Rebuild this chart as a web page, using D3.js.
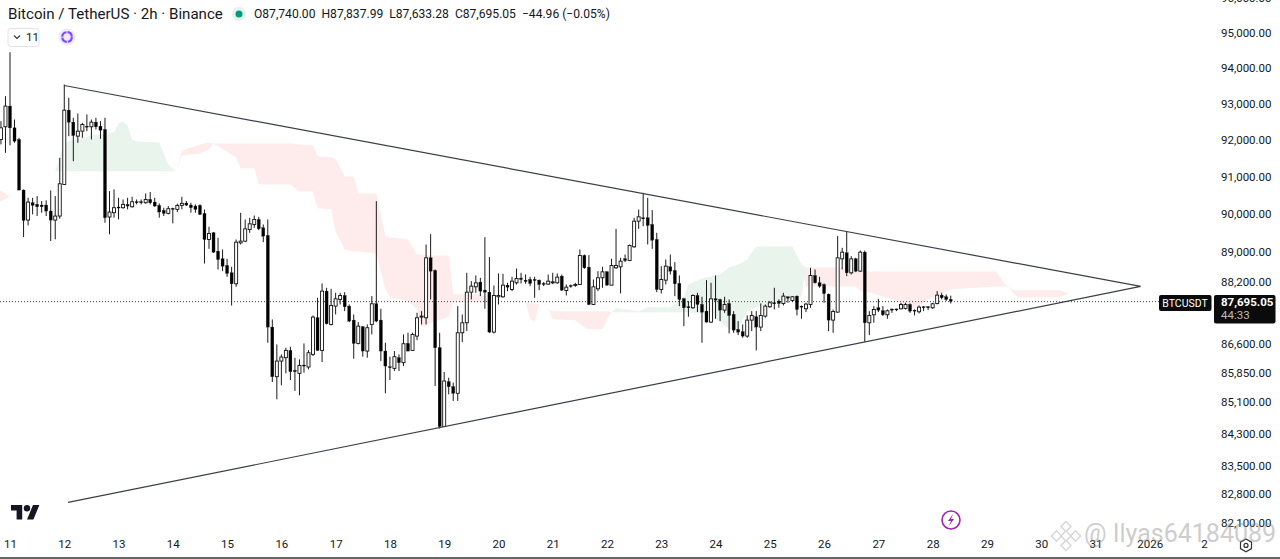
<!DOCTYPE html>
<html>
<head>
<meta charset="utf-8">
<title>BTCUSDT 2h</title>
<script src="https://cdn.jsdelivr.net/npm/d3@7"></script>
<style>
  html, body { margin: 0; padding: 0; background: #fff; overflow: hidden; }
  text { font-family: Roboto, "Open Sans", sans-serif; fill: #131722; }
</style>
</head>
<body>
<div id="chart"></div>
<script>
// 2h candles, first one sits two bars before Dec 11 00:00
const firstBar = -2;
const opens = [
  92020, 92370, 92940, 92340, 92020, 90645, 89838, 90303, 90260, 90241,
  90241, 90080, 89838, 89946, 90797, 92828, 92497, 92112, 92249, 92387,
  92370, 92497, 92387, 92296, 89920, 90035, 90188, 90170, 90259, 90196,
  90330, 90330, 90303, 90392, 90321, 90232, 90098, 90017, 90152, 90125,
  90232, 90295, 90241, 90214, 90232, 90014, 89320, 89498, 89010, 88807,
  88631, 88438, 88149, 89231, 89276, 89586, 89720, 89854, 89631, 89427,
  87020, 85744, 86144, 86230, 86418, 85906, 85829, 86042, 85991, 86315,
  87262, 86418, 87957, 87089, 87565, 87739, 87843, 87565, 87201, 86598,
  87028, 86401, 87089, 87626, 87201, 86401, 85999, 85957, 86230, 86102,
  86598, 86418, 86787, 87288, 87262, 88834, 88500, 86487, 84480, 85617,
  85490, 85321, 86873, 87132, 87930, 88070, 88193, 87983, 87930, 86890,
  87809, 87809, 88114, 88000, 88175, 88298, 88245, 88263, 88263, 88245,
  88158, 88140, 88175, 88175, 88350, 87974, 88105, 88105, 88131, 88896,
  88587, 87609, 88018, 88307, 88464, 88114, 88570, 88596, 88807, 88763,
  89126, 89809, 89898, 89898, 89720, 89320, 88000, 88245, 88596, 88500,
  88158, 87756, 87548, 87522, 87843, 87609, 87435, 87149, 87756, 87739,
  87461, 87635, 87348, 86959, 86899, 86787, 87201, 87288, 87020, 87305,
  87548, 87652, 87696, 87635, 87809, 87713, 87826, 87565, 87496, 87609,
  88368, 88175, 88131, 87878, 87201, 87409, 88807, 88966, 88438, 88807,
  88482, 88984, 87132, 87340, 87522, 87444, 87340, 87491, 87492, 87496,
  87505, 87609, 87461, 87418, 87548, 87548, 87522, 87635, 87852, 87809,
  87740
];
const highs = [
  92525, 93215, 94445, 92570, 92065, 90663, 90437, 90437, 90482, 90348,
  90366, 90636, 90482, 91520, 93541, 93169, 92617, 92736, 92479, 92709,
  92570, 92617, 92525, 92617, 90617, 90663, 90437, 90392, 90437, 90464,
  90392, 90392, 90555, 90591, 90437, 90286, 90170, 90214, 90170, 90277,
  90464, 90348, 90303, 90259, 90259, 90122, 89658, 89515, 89364, 89055,
  88807, 88596, 89320, 90032, 89854, 89898, 89961, 89925, 89720, 89854,
  87218, 86572, 86315, 86487, 86512, 86230, 86187, 86598, 86426, 87322,
  87783, 88158, 88045, 88018, 87913, 87913, 87930, 87609, 87348, 87149,
  87045, 87089, 87826, 90346, 87496, 86615, 86256, 86401, 86315, 86830,
  86873, 86873, 87391, 87435, 89187, 89463, 88526, 86873, 85863, 85718,
  85592, 87565, 87348, 88438, 88219, 88368, 88307, 89382, 88852, 88105,
  88421, 88412, 88175, 88333, 88552, 88438, 88394, 88333, 88333, 88263,
  88193, 88394, 88438, 88421, 88394, 88131, 88131, 88175, 89055, 88922,
  88905, 88263, 88482, 88596, 88482, 88807, 89604, 88834, 88922, 89187,
  89898, 90122, 90570, 90435, 90104, 89498, 88614, 88790, 88922, 88719,
  88368, 87783, 87696, 87870, 87913, 87809, 88245, 88175, 88368, 87756,
  87809, 87739, 87435, 87175, 87089, 87322, 87435, 87435, 87635, 87609,
  87696, 88045, 87739, 87913, 87815, 87826, 87843, 87582, 87652, 88570,
  88526, 88333, 88158, 87895, 87478, 89409, 89099, 89542, 88878, 88834,
  89027, 89027, 87435, 87565, 87756, 87565, 87478, 87496, 87496, 87652,
  87652, 87635, 87478, 87582, 87565, 87565, 87652, 87957, 87913, 87870,
  87837.99
];
const lows = [
  91885, 91655, 91860, 91930, 90640, 89386, 89696, 89991, 89946, 90035,
  89946, 89280, 89324, 89874, 90790, 92112, 91429, 91930, 92066, 92249,
  92021, 92296, 92039, 89768, 89457, 89902, 89856, 90143, 90125, 90170,
  90259, 90259, 90277, 90259, 90196, 89902, 89946, 89991, 89750, 90053,
  90125, 90214, 90035, 90035, 89973, 88684, 89072, 88966, 88526, 88482,
  88333, 87582, 88070, 89187, 89249, 89498, 89631, 89569, 89249, 86615,
  85608, 85169, 85524, 85829, 85659, 85380, 85270, 85846, 85931, 86273,
  86401, 86119, 87089, 87063, 87348, 87609, 87435, 87149, 86204, 86572,
  86256, 86230, 86830, 87149, 86144, 85321, 85659, 85889, 85889, 86016,
  86395, 86410, 86684, 87089, 87089, 87739, 85507, 84430, 84470, 85295,
  85127, 85127, 86632, 86916, 87739, 87913, 87826, 87496, 86873, 86856,
  87609, 87783, 87957, 87957, 88131, 88158, 88149, 88088, 87783, 87983,
  88088, 88123, 88140, 88149, 87965, 87843, 88045, 88070, 88125, 88543,
  87591, 87591, 87957, 88045, 88105, 88105, 88543, 87895, 88719, 88746,
  89099, 89604, 89675, 89187, 89072, 87930, 87895, 88131, 88394, 87826,
  87565, 87045, 87288, 87496, 87409, 86615, 87140, 87132, 87236, 87175,
  87391, 86856, 86873, 86813, 86744, 86744, 86916, 86418, 86916, 87262,
  87522, 87478, 87522, 87582, 87652, 87670, 87322, 87236, 87409, 87522,
  88158, 88045, 87652, 86916, 86873, 87391, 88526, 88350, 88394, 88455,
  88464, 86632, 86813, 87132, 87409, 87305, 87236, 87391, 87435, 87478,
  87478, 87391, 87322, 87374, 87435, 87461, 87496, 87609, 87739, 87696,
  87633.28
];
const closes = [
  92340, 92940, 92340, 91975, 90645, 89830, 90321, 90232, 90196, 90196,
  90080, 89838, 89946, 90815, 92828, 92497, 92130, 92249, 92433, 92360,
  92497, 92370, 92276, 89902, 90053, 90170, 90170, 90259, 90214, 90330,
  90312, 90312, 90392, 90303, 90214, 90053, 90017, 90143, 90134, 90232,
  90286, 90241, 90170, 90125, 89991, 89320, 89480, 88984, 88790, 88614,
  88421, 88149, 89249, 89276, 89604, 89738, 89854, 89604, 89409, 87020,
  85744, 86144, 86247, 86418, 85872, 85872, 86033, 86016, 86358, 87279,
  86418, 87957, 87106, 87582, 87756, 87843, 87548, 87175, 86598, 87045,
  86401, 87003, 87626, 87175, 86401, 86016, 85974, 86256, 86102, 86590,
  86401, 86830, 87262, 87305, 88834, 88482, 86487, 84480, 85634, 85490,
  85321, 86873, 87132, 87930, 88088, 88175, 87957, 87930, 86890, 87843,
  87843, 88114, 88061, 88219, 88289, 88263, 88210, 88158, 88245, 88131,
  88131, 88219, 88201, 88324, 87983, 88061, 88079, 88131, 88896, 88570,
  87609, 88070, 88307, 88464, 88114, 88631, 88631, 88746, 88763, 89161,
  89809, 89925, 89872, 89693, 89302, 88000, 88263, 88614, 88482, 88149,
  87739, 87522, 87522, 87843, 87609, 87409, 87149, 87756, 87722, 87461,
  87609, 87322, 86942, 86890, 86787, 87201, 87322, 87020, 87322, 87565,
  87652, 87626, 87635, 87826, 87774, 87809, 87478, 87548, 87618, 88368,
  88175, 88088, 87895, 87201, 87426, 88834, 88984, 88438, 88807, 88482,
  88984, 87132, 87322, 87478, 87461, 87340, 87444, 87461, 87478, 87609,
  87609, 87435, 87435, 87539, 87531, 87531, 87626, 87852, 87783, 87739,
  87695.05
];

// Ichimoku cloud, read at the bars where its outline changes
const cloudBars = [
  -3, 0, 10, 11, 12, 18, 23, 24, 25, 26, 27, 28, 33, 35, 36, 37, 38, 42, 44, 45,
  46, 50, 51, 54, 55, 62, 64, 67, 68, 71, 72, 74, 76, 77, 81, 83, 84, 88, 90, 91,
  94, 97, 98, 103, 105, 106, 114, 115, 116, 117, 119, 120, 125, 127, 128, 131, 132, 133, 134, 139,
  141, 146, 147, 149, 150, 153, 155, 157, 159, 161, 163, 165, 170, 173, 175, 176, 187, 188, 190, 195,
  200, 203, 208, 218, 220, 221, 222, 223, 232, 234
];
const spanA = [
  90288, 90473, 91153, 91560, 91940, 92131, 92213, 92461, 92516, 92406, 92022, 91967, 91940, 91342, 91207, 91180, 91586, 91640, 91750, 91913,
  91831, 91532, 91234, 91234, 90797, 90797, 90607, 90607, 90155, 90128, 89534, 89056, 89003, 89003, 88950, 88003, 87795, 87690, 87482, 87014,
  87170, 87274, 87664, 87664, 87664, 87664, 87664, 87222, 87170, 87612, 87482, 87222, 87196, 87014, 86963, 86963, 87222, 87404, 87508, 87430,
  87534, 87534, 87612, 87795, 88133, 88290, 88343, 88395, 88579, 88658, 88792, 89135, 89135, 89135, 88658, 88081, 88081, 87951, 87925, 87743,
  87482, 87743, 88003, 88081, 88081, 88055, 87873, 87795, 87795, 87899
];
const spanB = [
  90687, 90473, 91153, 91153, 91153, 91153, 91153, 91153, 91153, 91153, 91153, 91153, 91153, 91153, 91153, 91180, 91722, 91886, 91940, 91913,
  91913, 91913, 91913, 91913, 91913, 91913, 91886, 91860, 91560, 91532, 91478, 91014, 91014, 90553, 90553, 89401, 89375, 89322, 88924, 88924,
  88897, 88897, 87873, 87873, 87847, 87664, 87664, 87664, 87612, 87612, 87482, 87430, 87430, 87430, 87430, 87430, 87430, 87404, 87404, 87404,
  87404, 87404, 87404, 87404, 87404, 87378, 87274, 87170, 86963, 86963, 87430, 87534, 87664, 87743, 87821, 88579, 88579, 88527, 88474, 88474,
  88474, 88474, 88474, 88474, 88133, 88055, 87977, 87977, 87977, 87899
];

// triangle drawn on the chart: start bar/price and shared apex
const trendBars = [12, 12.83, 250];
const trendPrices = [93512, 82592, 88080];

const priceTicks = [96000, 95000, 94000, 93000, 92000, 91000, 90000, 89000, 88200, 86600, 85850, 85100, 84300, 83500, 82800, 82100];
const dayLabels = ["11", "12", "13", "14", "15", "16", "17", "18", "19", "20", "21", "22", "23", "24", "25", "26", "27", "28", "29", "30", "31", "2026", "2"];

const lastPrice = 87695.05;
const headerTitle = "Bitcoin / TetherUS · 2h · Binance";
const headerOhlc = "O87,740.00  H87,837.99  L87,633.28  C87,695.05  −44.96 (−0.05%)";

const width = 1280;
const height = 559;
const pink = "#fdeceb";
const green = "#e9f4ec";

const svg = d3.select("#chart").append("svg")
  .attr("width", width)
  .attr("height", height)
  .style("display", "block");

const start = Date.UTC(2025, 11, 11);
const barTime = i => new Date(start + i * 2 * 3600 * 1000);
const dayTicks = dayLabels.map((d, i) => new Date(start + i * 24 * 3600 * 1000));

const x = d3.scaleUtc()
  .domain([dayTicks[0], dayTicks[dayTicks.length - 1]])
  .range([10, 1204]);

const y = d3.scaleLog()
  .domain([95000, 82100])
  .range([32.5, 522.5]);

// cloud: green where spanA is on top, pink where spanB is on top
const cloud = cloudBars.map((b, i) => ({ bar: b, a: spanA[i], b: spanB[i] }));
const greenArea = d3.area()
  .x(d => x(barTime(d.bar)))
  .y0(d => y(d.b))
  .y1(d => y(Math.max(d.a, d.b)));
const pinkArea = d3.area()
  .x(d => x(barTime(d.bar)))
  .y0(d => y(d.a))
  .y1(d => y(Math.max(d.a, d.b)));
svg.append("path").attr("d", pinkArea(cloud)).attr("fill", pink);
svg.append("path").attr("d", greenArea(cloud)).attr("fill", green);

// last price line
svg.append("line")
  .attr("x1", 0)
  .attr("x2", 1159)
  .attr("y1", y(lastPrice) + 0.5)
  .attr("y2", y(lastPrice) + 0.5)
  .attr("stroke", "#444")
  .attr("stroke-width", 1)
  .attr("stroke-dasharray", "1 2");

// candles
const candles = opens.map((o, i) => ({
  bar: firstBar + i, open: o, high: highs[i], low: lows[i], close: closes[i]
}));
const bodyWidth = 3;
const candle = svg.append("g").selectAll("g")
  .data(candles)
  .join("g")
  .attr("transform", d => `translate(${x(barTime(d.bar))},0)`);
candle.append("line")
  .attr("y1", d => y(d.high))
  .attr("y2", d => y(d.low))
  .attr("stroke", "#1a1a1a")
  .attr("stroke-width", 1);
candle.append("rect")
  .attr("x", -bodyWidth / 2)
  .attr("width", bodyWidth)
  .attr("y", d => y(Math.max(d.open, d.close)))
  .attr("height", d => Math.max(1, Math.abs(y(d.open) - y(d.close))))
  .attr("fill", d => d.close >= d.open ? "#fff" : "#000")
  .attr("stroke", "#111")
  .attr("stroke-width", d => d.close >= d.open ? 0.9 : 0.3);

// triangle
const trendLine = d3.line()
  .x(i => x(barTime(trendBars[i])))
  .y(i => y(trendPrices[i]));
svg.append("path")
  .attr("d", trendLine([0, 2, 1]))
  .attr("fill", "none")
  .attr("stroke", "#3c3f48")
  .attr("stroke-width", 1.2);

// price axis
const yAxis = svg.append("g")
  .attr("transform", "translate(1221,0)")
  .call(d3.axisRight(y).tickValues(priceTicks).tickSize(0).tickPadding(0).tickFormat(d3.format(",.2f")));
yAxis.select(".domain").remove();
yAxis.selectAll("text").style("font-size", "11.5px").attr("fill", "#131722");

// time axis
const xAxis = svg.append("g")
  .attr("transform", "translate(0,540)")
  .call(d3.axisBottom(x).tickValues(dayTicks).tickSize(0).tickPadding(0)
    .tickFormat((d, i) => dayLabels[i]));
xAxis.select(".domain").remove();
xAxis.selectAll("text").style("font-size", "11.5px").attr("fill", "#131722");

svg.append("line")
  .attr("x1", 0).attr("x2", width)
  .attr("y1", 558).attr("y2", 558)
  .attr("stroke", "#333").attr("stroke-width", 1.5);

// legend row
svg.append("text").attr("x", 8).attr("y", 19).style("font-size", "15.1px").attr("fill", "#131722").text(headerTitle);
svg.append("circle").attr("cx", 239).attr("cy", 14).attr("r", 7).attr("fill", "#e3f3ee");
svg.append("circle").attr("cx", 239).attr("cy", 14).attr("r", 3.5).attr("fill", "#089981");
svg.append("text").attr("x", 254).attr("y", 18).style("font-size", "12.1px").style("white-space", "pre").attr("xml:space", "preserve").text(headerOhlc);

svg.append("rect").attr("x", 8).attr("y", 28.5).attr("width", 31).attr("height", 18).attr("rx", 3)
  .attr("fill", "#fff").attr("stroke", "#e0e3eb");
svg.append("path").attr("d", "M14 35.5l3 3 3-3").attr("fill", "none").attr("stroke", "#333").attr("stroke-width", 1.1);
svg.append("text").attr("x", 26).attr("y", 41).style("font-size", "11.5px").text("11");

// purple loading ring
svg.append("circle").attr("cx", 67).attr("cy", 37).attr("r", 8.5).attr("fill", "#efe9fd");
svg.append("circle").attr("cx", 67).attr("cy", 37).attr("r", 4.8).attr("fill", "none")
  .attr("stroke", "#7c4dff").attr("stroke-width", 2.2).attr("stroke-dasharray", "6.5 1");

// tradingview logo
const logo = svg.append("g").attr("transform", "translate(11,501.8) scale(0.8)").attr("fill", "#131722");
logo.append("path").attr("d", "M14 22H7V11H0V4h14v18zM28 22h-8l7.5-18h8L28 22z");
logo.append("circle").attr("cx", 20).attr("cy", 8).attr("r", 4);

// lightning badge
svg.append("circle").attr("cx", 951).attr("cy", 520).attr("r", 9).attr("fill", "#fff")
  .attr("stroke", "#9c27b0").attr("stroke-width", 1.6);
svg.append("path").attr("d", "M953 514l-5 7h3l-2 5 5-7h-3z").attr("fill", "#9c27b0");

// symbol and price tags
svg.append("rect").attr("x", 1159).attr("y", 295).attr("width", 52.5).attr("height", 16).attr("rx", 2).attr("fill", "#0b0b0b");
svg.append("text").attr("x", 1185).attr("y", 307).attr("text-anchor", "middle")
  .style("font-size", "10.5px").style("fill", "#fff").text("BTCUSDT");
svg.append("rect").attr("x", 1214).attr("y", 295).attr("width", 61.5).attr("height", 28.5).attr("rx", 2).attr("fill", "#0b0b0b");
svg.append("text").attr("x", 1221).attr("y", 306).style("font-size", "11.5px").style("font-weight", 700).style("fill", "#fff")
  .text(d3.format(",.2f")(lastPrice));
svg.append("text").attr("x", 1221).attr("y", 319).style("font-size", "11.5px").style("fill", "#bbb").text("44:33");

// settings gear
svg.append("path").attr("d", "M1246 539l5.5 3.2v6.4l-5.5 3.2-5.5-3.2v-6.4z").attr("fill", "none").attr("stroke", "#333").attr("stroke-width", 1.2);
svg.append("circle").attr("cx", 1246).attr("cy", 545.4).attr("r", 2).attr("fill", "none").attr("stroke", "#333").attr("stroke-width", 1.2);

// watermark on top of everything
const mark = svg.append("g").attr("opacity", 0.42);
mark.append("g").attr("transform", "translate(1066,536)")
  .selectAll("rect")
  .data([[0, -9.5], [-9.5, 0], [9.5, 0], [0, 9.5], [0, 0]])
  .join("rect")
  .attr("x", d => d[0] - 3.6).attr("y", d => d[1] - 3.6)
  .attr("width", 7.2).attr("height", 7.2)
  .attr("transform", d => `rotate(45 ${d[0]} ${d[1]})`)
  .attr("fill", "#fff").attr("stroke", "#999").attr("stroke-width", 1.3);
mark.append("text").attr("x", 1084).attr("y", 542)
  .style("font-size", "25px").style("fill", "#8a8a8a").text("@ Ilyas64184089");
</script>
</body>
</html>
